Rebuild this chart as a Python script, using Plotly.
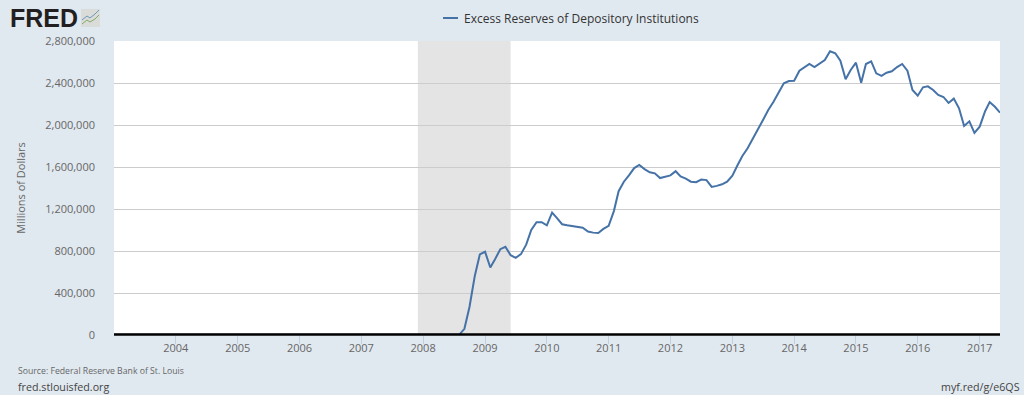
import pandas as pd
import plotly.graph_objects as go

series_name = "Excess Reserves of Depository Institutions"
start_month = "2003-01-01"

reserves_2003 = [1900, 1700, 1800, 2000, 1800, 2100, 1900, 2300, 2000, 1800, 1900, 2000]
reserves_2004 = [1800, 1700, 1900, 1600, 1700, 1900, 1800, 1900, 1700, 1800, 1700, 1800]
reserves_2005 = [1700, 1600, 1700, 1600, 1800, 1700, 1700, 1800, 1900, 1700, 1600, 1700]
reserves_2006 = [1700, 1600, 1700, 1600, 1700, 1700, 1600, 1700, 1600, 1700, 1700, 1800]
reserves_2007 = [1700, 1600, 1700, 1700, 1600, 1700, 1800, 1900, 2000, 1800, 1800, 2000]
reserves_2008 = [1600, 1700, 1800, 1800, 2000, 2100, 2200, 2000, 59000, 267000, 559000, 767000]
reserves_2009 = [793000, 643000, 722000, 817000, 840000, 760000, 735000, 770000, 860000, 1000000, 1075000, 1075000]
reserves_2010 = [1045000, 1165000, 1115000, 1055000, 1045000, 1035000, 1025000, 1022000, 985000, 975000, 972000, 1010000]
reserves_2011 = [1040000, 1180000, 1370000, 1460000, 1520000, 1590000, 1620000, 1580000, 1550000, 1540000, 1495000, 1505000]
reserves_2012 = [1520000, 1560000, 1510000, 1490000, 1460000, 1455000, 1480000, 1475000, 1410000, 1420000, 1435000, 1460000]
reserves_2013 = [1517000, 1619000, 1705000, 1778000, 1873000, 1959000, 2048000, 2143000, 2222000, 2311000, 2397000, 2419000]
reserves_2014 = [2422000, 2517000, 2549000, 2581000, 2552000, 2587000, 2619000, 2702000, 2683000, 2613000, 2435000, 2524000]
reserves_2015 = [2594000, 2403000, 2581000, 2606000, 2492000, 2467000, 2498000, 2511000, 2552000, 2581000, 2517000, 2333000]
reserves_2016 = [2279000, 2359000, 2368000, 2333000, 2286000, 2267000, 2210000, 2251000, 2159000, 1990000, 2035000, 1924000]
reserves_2017 = [1984000, 2127000, 2219000, 2174000, 2117000]

values = (reserves_2003 + reserves_2004 + reserves_2005 + reserves_2006 + reserves_2007
          + reserves_2008 + reserves_2009 + reserves_2010 + reserves_2011 + reserves_2012
          + reserves_2013 + reserves_2014 + reserves_2015 + reserves_2016 + reserves_2017)
dates = pd.date_range(start_month, periods=len(values), freq="MS")

tick_years = [str(y) for y in range(2004, 2018)]
y_ticks = [0, 400000, 800000, 1200000, 1600000, 2000000, 2400000, 2800000]
recession_start = "2007-12-01"
recession_end = "2009-06-01"

BG = "#e1e9f0"
LINE = "#4572a7"
TXT = "#666666"
FONT = "Open Sans"
PLOT_L, PLOT_R, PLOT_T, PLOT_B = 114, 1000, 41, 335

fig = go.Figure()
fig.add_trace(go.Scatter(x=dates, y=values, mode="lines", name=series_name,
                         line=dict(color=LINE, width=2), showlegend=False,
                         hovertemplate="%{x|%b %Y}: %{y:,}<extra></extra>"))

fig.add_shape(type="rect", xref="x", yref="paper", x0=recession_start, x1=recession_end,
              y0=0, y1=1, fillcolor="#e4e4e4", line_width=0, layer="below")


def px_x(v):
    return (v - PLOT_L) / (PLOT_R - PLOT_L)


def px_y(v):
    return (PLOT_B - v) / (PLOT_B - PLOT_T)


# heavy black baseline on top of the series
fig.add_shape(type="line", xref="paper", yref="paper", x0=0, x1=1, y0=px_y(334.5), y1=px_y(334.5),
              line=dict(color="#000000", width=2.5), layer="above")

# legend key + label
fig.add_shape(type="line", xref="paper", yref="paper", x0=px_x(443), x1=px_x(458),
              y0=px_y(18), y1=px_y(18), line=dict(color=LINE, width=2))
fig.add_annotation(xref="paper", yref="paper", x=px_x(462), y=px_y(18), xanchor="left", yanchor="middle",
                   text=series_name, showarrow=False, font=dict(family=FONT, size=12, color="#333333"))

# FRED logo
fig.add_annotation(xref="paper", yref="paper", x=px_x(8), y=px_y(18), xanchor="left", yanchor="middle",
                   text="<b>FRED</b>", showarrow=False,
                   font=dict(family="Liberation Sans", size=25, color="#231f20"))
fig.add_shape(type="rect", xref="paper", yref="paper", x0=px_x(81), x1=px_x(100), y0=px_y(27), y1=px_y(9),
              fillcolor="#d9dcd9", line_width=0)
fig.add_shape(type="path", xref="paper", yref="paper",
              path=f"M{px_x(82)},{px_y(20)} L{px_x(87)},{px_y(16)} L{px_x(90)},{px_y(18)} "
                   f"L{px_x(95)},{px_y(14)} L{px_x(99)},{px_y(10)}",
              line=dict(color="#6f97b8", width=1))
fig.add_shape(type="path", xref="paper", yref="paper",
              path=f"M{px_x(82)},{px_y(24)} L{px_x(87)},{px_y(20)} L{px_x(90)},{px_y(22)} "
                   f"L{px_x(95)},{px_y(19)} L{px_x(99)},{px_y(15)}",
              line=dict(color="#86a868", width=1))

# footer
fig.add_annotation(xref="paper", yref="paper", x=px_x(16), y=px_y(371), xanchor="left", yanchor="middle",
                   text="Source: Federal Reserve Bank of St. Louis", showarrow=False,
                   font=dict(family=FONT, size=8.7, color=TXT))
fig.add_annotation(xref="paper", yref="paper", x=px_x(16), y=px_y(387), xanchor="left", yanchor="middle",
                   text="fred.stlouisfed.org", showarrow=False,
                   font=dict(family=FONT, size=10.7, color="#444444"))
fig.add_annotation(xref="paper", yref="paper", x=px_x(1022), y=px_y(387), xanchor="right", yanchor="middle",
                   text="myf.red/g/e6QS", showarrow=False,
                   font=dict(family=FONT, size=10.7, color="#444444"))

fig.update_layout(
    width=1024, height=395, autosize=False,
    margin=dict(l=PLOT_L, r=1024 - PLOT_R, t=PLOT_T, b=395 - PLOT_B, pad=0),
    paper_bgcolor=BG, plot_bgcolor="#ffffff",
    font=dict(family=FONT, color=TXT, size=11),
    showlegend=False,
    xaxis=dict(range=[start_month, "2017-05-01"], type="date",
               tickvals=[f"{y}-01-01" for y in tick_years], ticktext=tick_years,
               ticks="outside", ticklen=8, tickcolor="#c0d0e0", tickwidth=1,
               showgrid=False, zeroline=False, showline=False, ticklabelstandoff=-5,
               tickfont=dict(family=FONT, size=11, color=TXT)),
    yaxis=dict(range=[0, 2800000], tickvals=y_ticks, tickformat=",d",
               showgrid=True, gridcolor="#cccccc", gridwidth=1, zeroline=False,
               showline=False, ticks="", ticklabelstandoff=18,
               tickfont=dict(family=FONT, size=11, color=TXT),
               title=dict(text="Millions of Dollars", standoff=17,
                          font=dict(family=FONT, size=11, color=TXT))),
)

fig.write_html("out.html", config={"displayModeBar": False},
               post_script=f"document.body.style.margin='0';document.body.style.background='{BG}';")
